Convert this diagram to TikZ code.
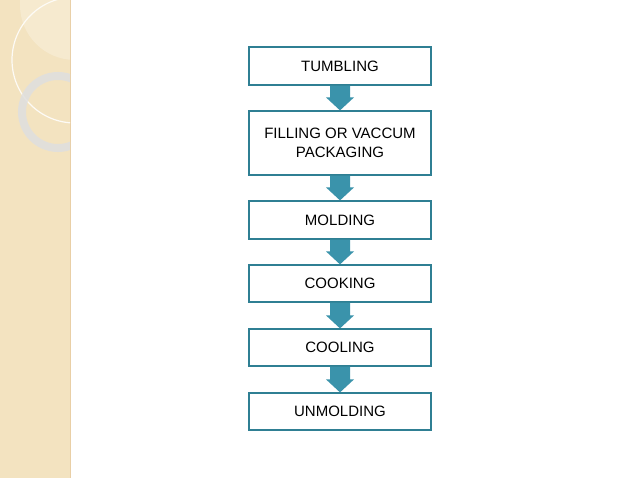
\documentclass[tikz,border=0pt]{standalone}
\usepackage{fontspec}
\setmainfont{Liberation Sans}
\definecolor{panel}{HTML}{F3E3C0}
\definecolor{teal}{HTML}{3A93AB}
\definecolor{boxline}{HTML}{2F7F93}
\begin{document}
\begin{tikzpicture}[x=1pt,y=-1pt,
  stepbox/.style={draw=boxline,line width=1.2pt,minimum width=182pt,align=center,font=\fontsize{15pt}{19pt}\selectfont},
  flow/.style={fill=teal,draw=none}]
\useasboundingbox (0,0) rectangle (638,478);
\fill[white] (0,0) rectangle (638,478);
\fill[panel] (0,0) rectangle (70,478);
\draw[color=panel!80!brown,line width=1pt] (70,0) -- (70,478);
\begin{scope}
\clip (0,0) rectangle (70,478);
\fill[white,opacity=0.25] (75,5) circle (55);
\draw[white!85!panel,line width=1.2pt] (75,60) circle (63);
\draw[gray!25!white,opacity=0.85,line width=8pt] (58,112) circle (36);
\end{scope}
\node[stepbox,minimum height=38pt] (a) at (340,66) {TUMBLING};
\node[stepbox,minimum height=64pt] (b) at (340,143) {FILLING OR VACCUM\\PACKAGING};
\node[stepbox,minimum height=38pt] (c) at (340,220) {MOLDING};
\node[stepbox,minimum height=37pt] (d) at (340,283.5) {COOKING};
\node[stepbox,minimum height=37pt] (e) at (340,347.5) {COOLING};
\node[stepbox,minimum height=37pt] (f) at (340,411.5) {UNMOLDING};
\foreach \u/\v in {a/b,b/c,c/d,d/e,e/f}{
  \path (\u.south) coordinate (s) (\v.north) coordinate (t);
  \fill[flow] ([xshift=-10pt]s) -- ([xshift=10pt]s) -- ([xshift=10pt,yshift=13pt]t) -- ([xshift=14pt,yshift=13pt]t) -- (t) -- ([xshift=-14pt,yshift=13pt]t) -- ([xshift=-10pt,yshift=13pt]t) -- cycle;
}
\end{tikzpicture}
\end{document}
